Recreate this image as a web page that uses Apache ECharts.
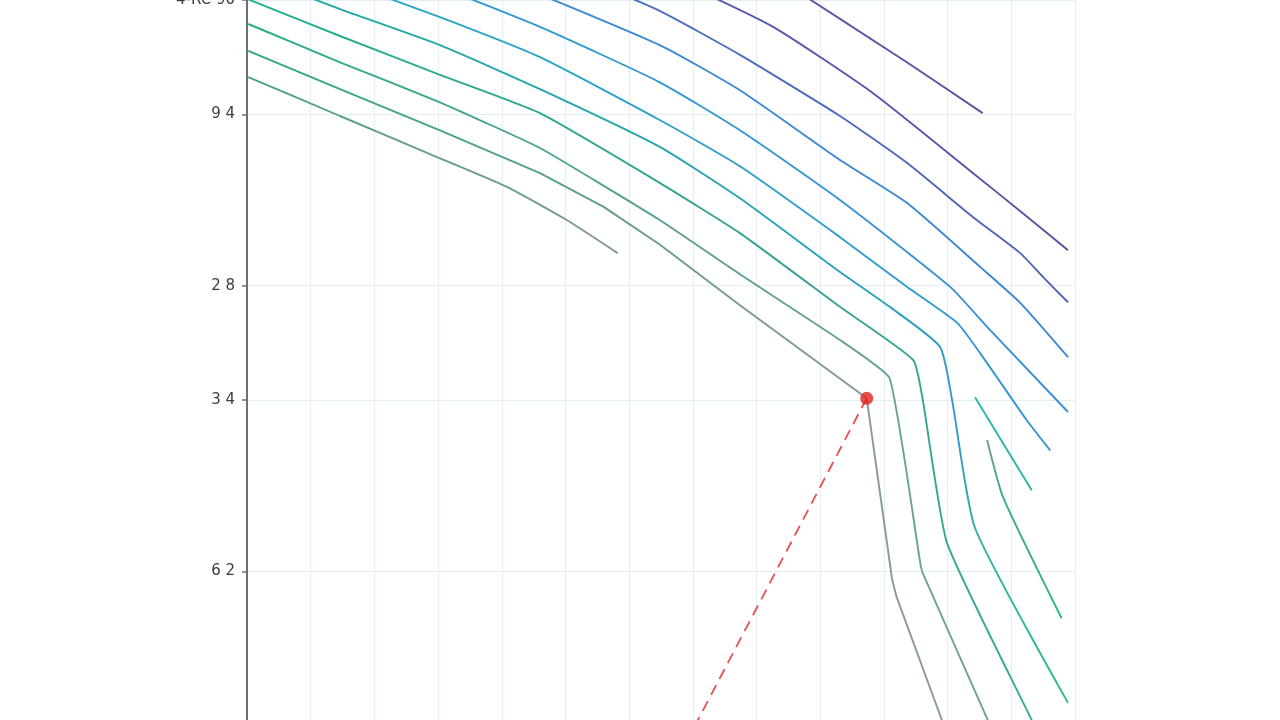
<!DOCTYPE html>
<html>
<head>
<meta charset="utf-8">
<style>
  html, body { margin: 0; padding: 0; background: #ffffff; }
  #chart { width: 1280px; height: 720px; }
</style>
<script src="https://cdn.jsdelivr.net/npm/echarts@6/dist/echarts.min.js"></script>
</head>
<body>
<div id="chart"></div>
<script>
// ---- tick labels (y axis) ----
const yTickValues = [0, 2, 5, 7, 10];
const yTickLabels = ['4-RC 90', '9 4', '2 8', '3 4', '6 2'];

// ---- contour lines: [x, y] pairs in axis units ----
const line0 = [[0.02,1.35],[1.46,2.03],[3.03,2.77],[4.08,3.27],[5.02,3.85],[5.82,4.43]];
const line1 = [[0.02,0.89],[1.46,1.56],[3.03,2.28],[4.60,3.03],[5.60,3.62],[6.48,4.28],[7.74,5.34],[9.73,6.97],[10.13,10.15],[10.20,10.45],[10.91,12.60],[11.15,13.30]];
const line2 = [[0.02,0.42],[1.46,1.09],[3.03,1.79],[4.60,2.59],[6.48,3.85],[7.74,4.80],[9.31,5.95],[10.09,6.62],[10.57,9.85],[10.61,10.03],[11.63,12.60],[11.90,13.30]];
const line3 = [[0.00,-0.02],[1.46,0.63],[3.03,1.31],[4.60,1.98],[6.48,3.20],[7.74,4.08],[9.31,5.37],[10.46,6.30],[10.61,7.00],[10.99,9.50],[12.32,12.60],[12.62,13.30]];
const line4 = [[0.27,-0.35],[1.46,0.16],[3.03,0.79],[4.60,1.56],[6.48,2.57],[7.74,3.47],[9.31,4.76],[10.09,5.37],[10.88,6.07],[11.07,7.00],[11.43,9.24],[12.89,12.30]];
const line5 = [[1.43,-0.35],[3.03,0.30],[4.60,1.00],[6.48,2.10],[7.74,2.91],[9.31,4.15],[10.36,5.02],[11.15,5.65],[11.51,6.18],[12.24,7.35],[12.61,7.88]];
const line6 = [[2.75,-0.35],[4.60,0.47],[6.48,1.44],[7.74,2.28],[9.31,3.50],[11.04,5.02],[11.62,5.72],[12.89,7.21]];
const line7 = [[4.05,-0.35],[6.48,0.79],[7.74,1.58],[9.31,2.80],[10.36,3.55],[11.51,4.67],[12.14,5.30],[12.89,6.25]];
const line8 = [[5.35,-0.35],[6.48,0.19],[7.74,0.96],[9.31,2.03],[10.36,2.85],[11.40,3.80],[12.14,4.43],[12.50,4.85],[12.89,5.29]];
const line9 = [[6.80,-0.32],[8.26,0.47],[9.83,1.63],[11.40,3.03],[12.18,3.73],[12.89,4.38]];
const line10 = [[8.41,-0.32],[10.36,1.09],[11.55,1.98]];
const fragment1 = [[11.43,6.95],[12.32,8.58]];
const fragment2 = [[11.62,7.70],[11.87,8.70],[12.79,10.82]];

// ---- highlighted point and its dashed guide ----
const markedPoint = [9.73, 6.97];
const guideEnd = [6.75, 13.30];

const G = echarts.graphic.LinearGradient;
const grad = (a, b) => new G(0, 0, 1, 0, [{offset: 0, color: a}, {offset: 1, color: b}]);

const lineStyles = [
  {data: line0, color: grad('#4aa283', '#7f9994'), smooth: 0.18},
  {data: line1, color: new G(0, 0, 1, 0, [{offset: 0, color: '#2ea77e'}, {offset: 0.5, color: '#5f9e8c'}, {offset: 0.8, color: '#829a96'}, {offset: 1, color: '#8a9b98'}]), smooth: false},
  {data: line2, color: new G(0, 0, 1, 0, [{offset: 0, color: '#22ad82'}, {offset: 0.6, color: '#5c9e8e'}, {offset: 1, color: '#6fa596'}]), smooth: 0.12},
  {data: line3, color: new G(0, 0, 1, 0, [{offset: 0, color: '#1fb08a'}, {offset: 0.7, color: '#3a9e96'}, {offset: 1, color: '#2fb08e'}]), smooth: 0.15},
  {data: line4, color: new G(0, 0, 0, 1, [{offset: 0, color: '#1faaa0'}, {offset: 0.45, color: '#2a9fbd'}, {offset: 0.6, color: '#3c96d2'}, {offset: 0.78, color: '#2ab39a'}, {offset: 1, color: '#2cb88c'}]), smooth: 0.18},
  {data: line5, color: grad('#2aa6c2', '#3396d4'), smooth: 0.18},
  {data: line6, color: grad('#2d9ccf', '#3c8fd6'), smooth: 0.18},
  {data: line7, color: grad('#3a8ad2', '#3c86d2'), smooth: 0.18},
  {data: line8, color: grad('#4a70c4', '#5062b4'), smooth: 0.18},
  {data: line9, color: grad('#5a58b4', '#5552a2'), smooth: 0.18},
  {data: line10, color: grad('#5e55ad', '#58509c'), smooth: 0.18},
  {data: fragment1, color: grad('#2ab3b0', '#2bb49a'), smooth: false},
  {data: fragment2, color: new G(0, 0, 0, 1, [{offset: 0, color: '#7a9992'}, {offset: 0.3, color: '#3aa98e'}, {offset: 1, color: '#2bb68c'}]), smooth: 0.18}
];

const series = lineStyles.map(s => ({
  type: 'line',
  data: s.data,
  showSymbol: false,
  symbol: 'none',
  smooth: s.smooth,
  clip: true,
  lineStyle: {color: s.color, width: 1.9},
  silent: true,
  z: 3
}));

series.push({
  type: 'line',
  data: [markedPoint, guideEnd],
  symbol: 'none',
  clip: true,
  lineStyle: {color: '#e6504f', width: 1.8, type: [11, 7]},
  silent: true,
  z: 4
});
series.push({
  type: 'scatter',
  data: [markedPoint],
  symbolSize: 13,
  itemStyle: {color: '#e3211f'},
  z: 6
});

const chart = echarts.init(document.getElementById('chart'), null, {renderer: 'canvas'});
chart.setOption({
  animation: false,
  backgroundColor: '#ffffff',
  grid: {left: 247, right: 205, top: 0, bottom: 0, containLabel: false, outerBoundsMode: 'none'},
  xAxis: {
    type: 'value', min: 0, max: 13, interval: 1,
    axisLine: {show: false}, axisTick: {show: false}, axisLabel: {show: false},
    splitLine: {show: true, lineStyle: {color: '#e5eef3', width: 1}}
  },
  yAxis: {
    type: 'value', inverse: true, min: 0, max: 12.6, interval: 1,
    axisLine: {show: true, lineStyle: {color: '#6e6e6e', width: 2}},
    axisTick: {show: true, length: 5, customValues: yTickValues, lineStyle: {color: '#6e6e6e', width: 1.5}},
    axisLabel: {
      show: true, customValues: yTickValues, margin: 12, fontSize: 15,
      fontFamily: 'DejaVu Sans', color: '#3d3d3d', showMinLabel: true,
      formatter: v => {
        const i = yTickValues.indexOf(Math.round(v * 100) / 100);
        return i >= 0 ? yTickLabels[i] : '';
      }
    },
    splitLine: {show: true, lineStyle: {color: '#e5eef3', width: 1}}
  },
  series: series
});
</script>
</body>
</html>
